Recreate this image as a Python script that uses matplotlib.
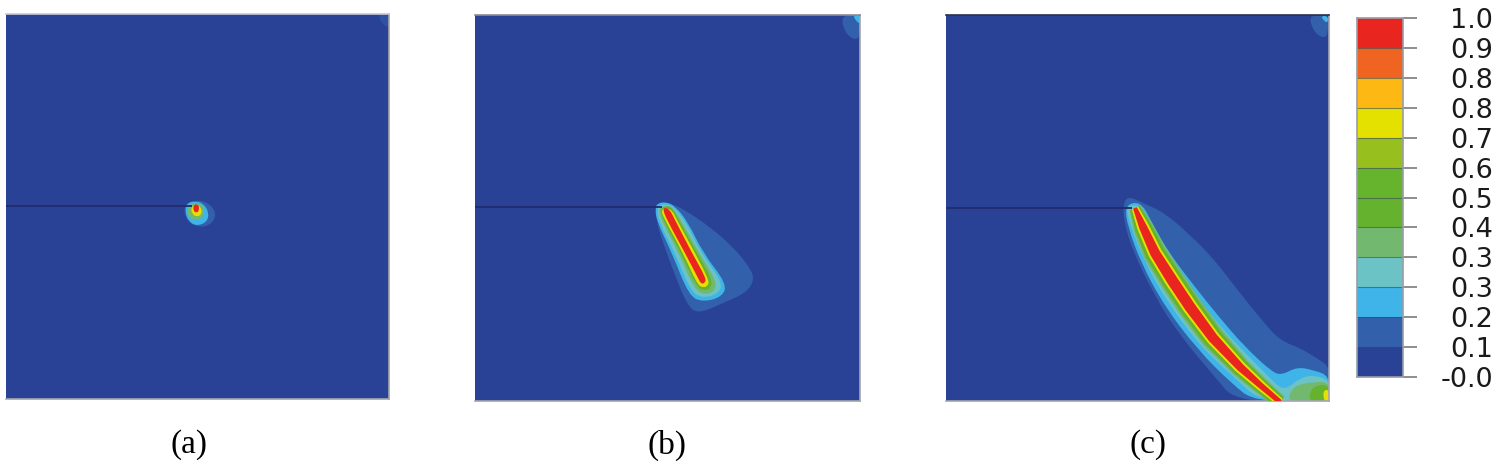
import numpy as np
import matplotlib
matplotlib.use("Agg")
import matplotlib.pyplot as plt
from matplotlib.path import Path
from matplotlib.patches import PathPatch

W, H = 1500, 466

# legend, bottom to top
LEGEND_LABELS = ["-0.0", "0.1", "0.2", "0.3", "0.3", "0.4", "0.5", "0.6", "0.7", "0.8", "0.8", "0.9", "1.0"]
LEGEND_COLORS = ["#2A4296", "#3260AB", "#3FB4E8", "#6CC3C6", "#72B96F", "#65B22E",
                 "#66B32E", "#97BF1D", "#E4E000", "#FDB813", "#EE6420", "#E8251F"]
CAPTIONS = ["(a)", "(b)", "(c)"]

# contour outlines in image pixels
A_PALE_X = [196, 207, 215, 215, 206, 194, 185, 184]
A_PALE_Y = [200, 202, 210, 220, 227, 226, 218, 204]
A_CYAN_X = [196, 204, 209, 207, 197, 189, 185, 187]
A_CYAN_Y = [201, 204, 213, 222, 226, 222, 212, 203]
A_GREEN_X = [196, 203, 205, 200, 192, 187, 188]
A_GREEN_Y = [203, 205, 213, 220, 220, 214, 205]
A_YELLOW_X = [196, 201, 202, 197, 192, 191]
A_YELLOW_Y = [205, 207, 214, 217, 214, 207]
A_RED_X = [194, 199, 199, 196, 193]
A_RED_Y = [204, 205, 211, 213, 210]
A_CORNER_X = [378, 389, 389, 382]
A_CORNER_Y = [14, 14, 28, 24]

B_PALE_X = [672, 685, 710, 733, 748, 755, 746, 723, 698, 687, 673, 662, 656, 657, 663]
B_PALE_Y = [204, 210, 227, 247, 265, 279, 293, 303, 314, 305, 270, 240, 220, 206, 202]
B_CYAN_X = [666, 675, 688, 703, 727, 722, 703, 689, 672, 657, 655, 658]
B_CYAN_Y = [202, 206, 222, 253, 284, 297, 302, 296, 253, 222, 208, 203]
B_TEAL_X = [666, 673, 686, 701, 723, 718, 703, 691, 675, 659, 657, 660]
B_TEAL_Y = [204, 206, 222, 253, 283, 294, 298, 292, 253, 222, 209, 205]
B_GREEN_X = [664, 672, 682, 699, 716, 715, 705, 694, 679, 662, 658]
B_GREEN_Y = [206, 206, 222, 253, 280, 291, 295, 289, 253, 222, 209]
B_LIME_X = [666, 672, 680, 697, 712, 711, 704, 696, 681, 664, 660]
B_LIME_Y = [206, 207, 222, 253, 279, 288, 291, 286, 253, 222, 209]
B_YELLOW_X = [671, 678, 695, 708, 709, 703, 697, 683, 666, 660]
B_YELLOW_Y = [208, 222, 253, 278, 285, 288, 284, 253, 222, 209]
B_RED_X = [669, 676, 692, 706, 705, 701, 698, 685, 668, 662]
B_RED_Y = [208, 222, 253, 278, 283, 284, 278, 253, 222, 208]
B_CORNER_X = [842, 860, 860, 850, 843]
B_CORNER_Y = [15, 15, 40, 38, 28]
B_CORNER2_X = [853, 860, 860, 856]
B_CORNER2_Y = [15, 15, 24, 21]

C_PALE_X = [1128, 1143, 1165, 1190, 1213, 1236, 1260, 1279, 1300, 1320, 1330, 1330, 1236, 1215, 1181, 1155, 1131, 1124, 1123]
C_PALE_Y = [196, 203, 213, 235, 258, 288, 318, 340, 348, 360, 368, 402, 402, 377, 337, 297, 247, 220, 205]
C_CYAN_X = [1133, 1143, 1152, 1169, 1195, 1219, 1245, 1272, 1282, 1297, 1313, 1330, 1330, 1255, 1231, 1198, 1165, 1141, 1128, 1125]
C_CYAN_Y = [202, 205, 223, 253, 287, 317, 347, 372, 375, 367, 370, 376, 402, 402, 383, 350, 307, 263, 227, 208]
C_TEAL_X = [1132, 1141, 1149, 1165, 1192, 1215, 1242, 1269, 1280, 1288, 1300, 1313, 1330, 1330, 1261, 1235, 1201, 1168, 1145, 1131, 1126]
C_TEAL_Y = [205, 206, 227, 257, 290, 320, 350, 377, 388, 388, 378, 375, 380, 402, 402, 378, 347, 303, 263, 227, 208]
C_BLOB_GREEN_X = [1297, 1313, 1330, 1330, 1288, 1290]
C_BLOB_GREEN_Y = [385, 382, 382, 402, 402, 392]
C_BLOB_LIME_X = [1312, 1330, 1330, 1308]
C_BLOB_LIME_Y = [386, 384, 402, 402]
C_BLOB_YELLOW_X = [1323, 1330, 1330, 1324]
C_BLOB_YELLOW_Y = [390, 390, 402, 402]
C_CORNER_X = [1310, 1328, 1328, 1318, 1311]
C_CORNER_Y = [15, 15, 38, 36, 26]
C_CORNER2_X = [1321, 1328, 1328, 1324]
C_CORNER2_Y = [16, 16, 23, 21]

# shear band centreline in (c) and half widths of the inner bands
C_CENTRE_X = [1135, 1143, 1155, 1172, 1190, 1213, 1240, 1260, 1280]
C_CENTRE_Y = [208, 227, 253, 280, 307, 338, 367, 385, 402]
C_HW_LGREEN = [6, 10, 12, 12.5, 12.5, 12, 10, 8.5, 7]
C_HW_GREEN = [5, 8.5, 10, 10.5, 10.5, 10, 8.5, 7, 6]
C_HW_YELLOW = [3.5, 6, 7, 7.5, 7.5, 7, 6, 5, 4]
C_HW_RED = [2, 4, 5, 5.5, 5.5, 5, 4, 3, 2.5]

PALE, CYAN, TEAL, LGREEN, GREEN = LEGEND_COLORS[1:6]
LIME, YELLOW, ORANGE, RED = LEGEND_COLORS[7], LEGEND_COLORS[8], LEGEND_COLORS[9], LEGEND_COLORS[11]
BASE = LEGEND_COLORS[0]
CRACK = "#1F2B6E"
EDGE = "#A4A6AE"


def blob(ax, xs, ys, color, z=2):
    # closed outline, rounded with quadratic segments through the midpoints
    pts = np.column_stack([xs, ys]).astype(float)
    mids = (pts + np.roll(pts, -1, axis=0)) / 2
    verts, codes = [mids[-1]], [Path.MOVETO]
    for p, m in zip(pts, mids):
        verts += [p, m]
        codes += [Path.CURVE3, Path.CURVE3]
    ax.add_patch(PathPatch(Path(verts, codes), fc=color, ec="none", zorder=z))


def band(ax, cx, cy, hw, color, z=3):
    cx, cy, hw = map(lambda v: np.asarray(v, float), (cx, cy, hw))
    dx, dy = np.gradient(cx), np.gradient(cy)
    n = np.hypot(dx, dy)
    nx, ny = -dy / n, dx / n
    xs = np.r_[cx + nx * hw, (cx - nx * hw)[::-1]]
    ys = np.r_[cy + ny * hw, (cy - ny * hw)[::-1]]
    ax.fill(xs, ys, color=color, lw=0, zorder=z)


def panel(fig, x0, x1, y0, y1):
    ax = fig.add_axes([x0 / W, 1 - y1 / H, (x1 - x0) / W, (y1 - y0) / H])
    ax.set_xlim(x0, x1)
    ax.set_ylim(y1, y0)
    ax.set_facecolor(BASE)
    ax.set_xticks([])
    ax.set_yticks([])
    for s in ax.spines.values():
        s.set_color(EDGE)
        s.set_linewidth(1.2)
    ax.spines["left"].set_visible(False)
    return ax


fig = plt.figure(figsize=(W / 100, H / 100), dpi=100, facecolor="white")

# ── panel (a) ──
ax = panel(fig, 6, 389, 14, 399)
ax.spines["top"].set_color("#C9CAD2")
blob(ax, A_CORNER_X, A_CORNER_Y, "#2F52A2")
blob(ax, A_PALE_X, A_PALE_Y, PALE)
blob(ax, A_CYAN_X, A_CYAN_Y, CYAN)
blob(ax, A_GREEN_X, A_GREEN_Y, LGREEN)
blob(ax, A_YELLOW_X, A_YELLOW_Y, YELLOW)
blob(ax, A_RED_X, A_RED_Y, RED)
ax.plot([6, 192], [206, 206], color=CRACK, lw=1.3, zorder=5, solid_capstyle="butt")

# ── panel (b) ──
ax = panel(fig, 475, 860, 15, 401)
ax.spines["top"].set_color("#8A8C96")
blob(ax, B_CORNER_X, B_CORNER_Y, PALE)
blob(ax, B_CORNER2_X, B_CORNER2_Y, CYAN)
blob(ax, B_PALE_X, B_PALE_Y, PALE)
blob(ax, B_CYAN_X, B_CYAN_Y, CYAN)
blob(ax, B_TEAL_X, B_TEAL_Y, TEAL)
blob(ax, B_GREEN_X, B_GREEN_Y, LGREEN)
blob(ax, B_LIME_X, B_LIME_Y, GREEN)
blob(ax, B_YELLOW_X, B_YELLOW_Y, YELLOW)
blob(ax, B_RED_X, B_RED_Y, RED)
ax.plot([475, 662], [207, 207], color=CRACK, lw=1.3, zorder=5, solid_capstyle="butt")

# ── panel (c) ──
ax = panel(fig, 946, 1329, 15, 401)
ax.spines["top"].set_color("#2A2E55")
blob(ax, C_CORNER_X, C_CORNER_Y, PALE)
blob(ax, C_CORNER2_X, C_CORNER2_Y, CYAN)
blob(ax, C_PALE_X, C_PALE_Y, PALE)
blob(ax, C_CYAN_X, C_CYAN_Y, CYAN)
blob(ax, C_TEAL_X, C_TEAL_Y, TEAL)
blob(ax, C_BLOB_GREEN_X, C_BLOB_GREEN_Y, LGREEN)
blob(ax, C_BLOB_LIME_X, C_BLOB_LIME_Y, GREEN)
blob(ax, C_BLOB_YELLOW_X, C_BLOB_YELLOW_Y, YELLOW)
band(ax, C_CENTRE_X, C_CENTRE_Y, C_HW_LGREEN, LGREEN)
band(ax, C_CENTRE_X, C_CENTRE_Y, C_HW_GREEN, GREEN)
band(ax, C_CENTRE_X, C_CENTRE_Y, C_HW_YELLOW, YELLOW)
band(ax, C_CENTRE_X, C_CENTRE_Y, C_HW_RED, RED)
ax.plot([946, 1132], [208, 208], color=CRACK, lw=1.3, zorder=5, solid_capstyle="butt")

# ── legend ──
cax = fig.add_axes([1357 / W, 1 - 377 / H, 46 / W, 359 / H])
n = len(LEGEND_COLORS)
cax.pcolormesh(np.arange(2), np.arange(n + 1), np.arange(n).reshape(-1, 1),
               cmap=matplotlib.colors.ListedColormap(LEGEND_COLORS), vmin=-0.5, vmax=n - 0.5)
cax.hlines(np.arange(1, n), 0, 1, color="#3B4A5A", lw=0.8, alpha=0.6)
cax.set_xticks([])
cax.set_yticks(np.arange(n + 1))
cax.set_yticklabels(LEGEND_LABELS, fontsize=19.5, color="#1A1A1A", ha="right")
cax.yaxis.tick_right()
cax.tick_params(axis="y", length=10, width=1.4, color="#8E8E8E", pad=55)
for s in cax.spines.values():
    s.set_color("#9A9CA6")
    s.set_linewidth(1.2)

# ── captions ──
for label, cx in zip(CAPTIONS, [189, 667, 1148]):
    fig.text(cx / W, 1 - 445 / H, label, family="Liberation Serif", fontsize=24,
             ha="center", va="center", color="black")

fig.savefig("out.png", dpi=100, facecolor="white")
